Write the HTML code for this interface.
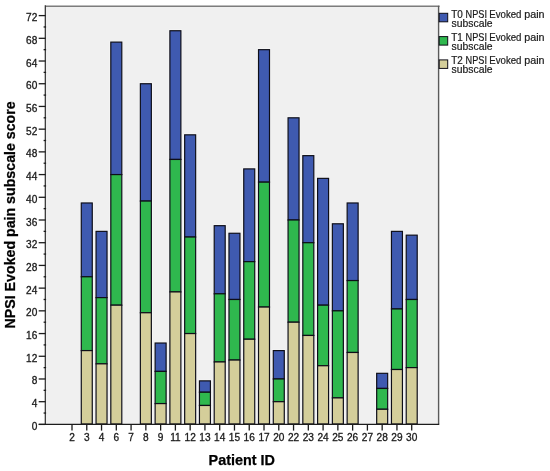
<!DOCTYPE html>
<html><head><meta charset="utf-8"><title>NPSI Evoked pain subscale score</title>
<style>
html,body{margin:0;padding:0;background:#fff;}
body{width:550px;height:471px;overflow:hidden;}
svg{display:block;}
text{font-family:"Liberation Sans",Arial,sans-serif;fill:#1a1a1a;}
.tk{font-size:10.1px;stroke:#1a1a1a;stroke-width:0.3px;}
.lg{font-size:10.4px;stroke:#1a1a1a;stroke-width:0.2px;}
.ttl{font-size:14.2px;font-weight:bold;fill:#000;stroke:#000;stroke-width:0.25px;}
</style></head>
<body>
<svg width="550" height="471" viewBox="0 0 550 471">
<rect x="0" y="0" width="550" height="471" fill="#ffffff"/>
<rect x="45.6" y="5.8" width="393.4" height="418.2" fill="#f0f0f0"/>
<rect x="80.17" y="201.87" width="13.2" height="222.13" fill="#ffffff" fill-opacity="0.75"/>
<rect x="94.94" y="230.26" width="13.2" height="193.74" fill="#ffffff" fill-opacity="0.75"/>
<rect x="109.71" y="41.00" width="13.2" height="383.00" fill="#ffffff" fill-opacity="0.75"/>
<rect x="139.25" y="82.63" width="13.2" height="341.37" fill="#ffffff" fill-opacity="0.75"/>
<rect x="154.02" y="341.92" width="13.2" height="82.08" fill="#ffffff" fill-opacity="0.75"/>
<rect x="168.79" y="29.64" width="13.2" height="394.36" fill="#ffffff" fill-opacity="0.75"/>
<rect x="183.56" y="133.73" width="13.2" height="290.27" fill="#ffffff" fill-opacity="0.75"/>
<rect x="198.33" y="379.77" width="13.2" height="44.23" fill="#ffffff" fill-opacity="0.75"/>
<rect x="213.10" y="224.58" width="13.2" height="199.42" fill="#ffffff" fill-opacity="0.75"/>
<rect x="227.87" y="232.15" width="13.2" height="191.85" fill="#ffffff" fill-opacity="0.75"/>
<rect x="242.64" y="167.80" width="13.2" height="256.20" fill="#ffffff" fill-opacity="0.75"/>
<rect x="257.41" y="48.57" width="13.2" height="375.43" fill="#ffffff" fill-opacity="0.75"/>
<rect x="272.18" y="349.49" width="13.2" height="74.51" fill="#ffffff" fill-opacity="0.75"/>
<rect x="286.95" y="116.70" width="13.2" height="307.30" fill="#ffffff" fill-opacity="0.75"/>
<rect x="301.72" y="154.55" width="13.2" height="269.45" fill="#ffffff" fill-opacity="0.75"/>
<rect x="316.49" y="177.26" width="13.2" height="246.74" fill="#ffffff" fill-opacity="0.75"/>
<rect x="331.26" y="222.69" width="13.2" height="201.31" fill="#ffffff" fill-opacity="0.75"/>
<rect x="346.03" y="201.87" width="13.2" height="222.13" fill="#ffffff" fill-opacity="0.75"/>
<rect x="375.57" y="372.20" width="13.2" height="51.80" fill="#ffffff" fill-opacity="0.75"/>
<rect x="390.34" y="230.26" width="13.2" height="193.74" fill="#ffffff" fill-opacity="0.75"/>
<rect x="405.11" y="234.04" width="13.2" height="189.96" fill="#ffffff" fill-opacity="0.75"/>
<rect x="81.27" y="202.97" width="11.0" height="73.81" fill="#3f5ab0" stroke="#0e0e18" stroke-width="1.2"/>
<rect x="81.27" y="276.78" width="11.0" height="73.81" fill="#2fb84e" stroke="#0e0e18" stroke-width="1.2"/>
<rect x="81.27" y="350.59" width="11.0" height="73.41" fill="#d4ce9a" stroke="#0e0e18" stroke-width="1.2"/>
<rect x="96.04" y="231.36" width="11.0" height="66.24" fill="#3f5ab0" stroke="#0e0e18" stroke-width="1.2"/>
<rect x="96.04" y="297.60" width="11.0" height="66.24" fill="#2fb84e" stroke="#0e0e18" stroke-width="1.2"/>
<rect x="96.04" y="363.84" width="11.0" height="60.16" fill="#d4ce9a" stroke="#0e0e18" stroke-width="1.2"/>
<rect x="110.81" y="42.10" width="11.0" height="132.48" fill="#3f5ab0" stroke="#0e0e18" stroke-width="1.2"/>
<rect x="110.81" y="174.58" width="11.0" height="130.59" fill="#2fb84e" stroke="#0e0e18" stroke-width="1.2"/>
<rect x="110.81" y="305.17" width="11.0" height="118.83" fill="#d4ce9a" stroke="#0e0e18" stroke-width="1.2"/>
<rect x="140.35" y="83.73" width="11.0" height="117.34" fill="#3f5ab0" stroke="#0e0e18" stroke-width="1.2"/>
<rect x="140.35" y="201.07" width="11.0" height="111.66" fill="#2fb84e" stroke="#0e0e18" stroke-width="1.2"/>
<rect x="140.35" y="312.74" width="11.0" height="111.26" fill="#d4ce9a" stroke="#0e0e18" stroke-width="1.2"/>
<rect x="155.12" y="343.02" width="11.0" height="28.39" fill="#3f5ab0" stroke="#0e0e18" stroke-width="1.2"/>
<rect x="155.12" y="371.41" width="11.0" height="32.17" fill="#2fb84e" stroke="#0e0e18" stroke-width="1.2"/>
<rect x="155.12" y="403.58" width="11.0" height="20.42" fill="#d4ce9a" stroke="#0e0e18" stroke-width="1.2"/>
<rect x="169.89" y="30.74" width="11.0" height="128.70" fill="#3f5ab0" stroke="#0e0e18" stroke-width="1.2"/>
<rect x="169.89" y="159.44" width="11.0" height="132.48" fill="#2fb84e" stroke="#0e0e18" stroke-width="1.2"/>
<rect x="169.89" y="291.92" width="11.0" height="132.08" fill="#d4ce9a" stroke="#0e0e18" stroke-width="1.2"/>
<rect x="184.66" y="134.83" width="11.0" height="102.20" fill="#3f5ab0" stroke="#0e0e18" stroke-width="1.2"/>
<rect x="184.66" y="237.03" width="11.0" height="96.52" fill="#2fb84e" stroke="#0e0e18" stroke-width="1.2"/>
<rect x="184.66" y="333.56" width="11.0" height="90.44" fill="#d4ce9a" stroke="#0e0e18" stroke-width="1.2"/>
<rect x="199.43" y="380.87" width="11.0" height="11.36" fill="#3f5ab0" stroke="#0e0e18" stroke-width="1.2"/>
<rect x="199.43" y="392.23" width="11.0" height="13.25" fill="#2fb84e" stroke="#0e0e18" stroke-width="1.2"/>
<rect x="199.43" y="405.47" width="11.0" height="18.53" fill="#d4ce9a" stroke="#0e0e18" stroke-width="1.2"/>
<rect x="214.20" y="225.68" width="11.0" height="68.13" fill="#3f5ab0" stroke="#0e0e18" stroke-width="1.2"/>
<rect x="214.20" y="293.81" width="11.0" height="68.13" fill="#2fb84e" stroke="#0e0e18" stroke-width="1.2"/>
<rect x="214.20" y="361.94" width="11.0" height="62.06" fill="#d4ce9a" stroke="#0e0e18" stroke-width="1.2"/>
<rect x="228.97" y="233.25" width="11.0" height="66.24" fill="#3f5ab0" stroke="#0e0e18" stroke-width="1.2"/>
<rect x="228.97" y="299.49" width="11.0" height="60.56" fill="#2fb84e" stroke="#0e0e18" stroke-width="1.2"/>
<rect x="228.97" y="360.05" width="11.0" height="63.95" fill="#d4ce9a" stroke="#0e0e18" stroke-width="1.2"/>
<rect x="243.74" y="168.90" width="11.0" height="92.74" fill="#3f5ab0" stroke="#0e0e18" stroke-width="1.2"/>
<rect x="243.74" y="261.64" width="11.0" height="77.60" fill="#2fb84e" stroke="#0e0e18" stroke-width="1.2"/>
<rect x="243.74" y="339.23" width="11.0" height="84.77" fill="#d4ce9a" stroke="#0e0e18" stroke-width="1.2"/>
<rect x="258.51" y="49.67" width="11.0" height="132.48" fill="#3f5ab0" stroke="#0e0e18" stroke-width="1.2"/>
<rect x="258.51" y="182.15" width="11.0" height="124.91" fill="#2fb84e" stroke="#0e0e18" stroke-width="1.2"/>
<rect x="258.51" y="307.06" width="11.0" height="116.94" fill="#d4ce9a" stroke="#0e0e18" stroke-width="1.2"/>
<rect x="273.28" y="350.59" width="11.0" height="28.39" fill="#3f5ab0" stroke="#0e0e18" stroke-width="1.2"/>
<rect x="273.28" y="378.98" width="11.0" height="22.71" fill="#2fb84e" stroke="#0e0e18" stroke-width="1.2"/>
<rect x="273.28" y="401.69" width="11.0" height="22.31" fill="#d4ce9a" stroke="#0e0e18" stroke-width="1.2"/>
<rect x="288.05" y="117.80" width="11.0" height="102.20" fill="#3f5ab0" stroke="#0e0e18" stroke-width="1.2"/>
<rect x="288.05" y="220.00" width="11.0" height="102.20" fill="#2fb84e" stroke="#0e0e18" stroke-width="1.2"/>
<rect x="288.05" y="322.20" width="11.0" height="101.80" fill="#d4ce9a" stroke="#0e0e18" stroke-width="1.2"/>
<rect x="302.82" y="155.65" width="11.0" height="87.06" fill="#3f5ab0" stroke="#0e0e18" stroke-width="1.2"/>
<rect x="302.82" y="242.71" width="11.0" height="92.74" fill="#2fb84e" stroke="#0e0e18" stroke-width="1.2"/>
<rect x="302.82" y="335.45" width="11.0" height="88.55" fill="#d4ce9a" stroke="#0e0e18" stroke-width="1.2"/>
<rect x="317.59" y="178.36" width="11.0" height="126.80" fill="#3f5ab0" stroke="#0e0e18" stroke-width="1.2"/>
<rect x="317.59" y="305.17" width="11.0" height="60.56" fill="#2fb84e" stroke="#0e0e18" stroke-width="1.2"/>
<rect x="317.59" y="365.73" width="11.0" height="58.27" fill="#d4ce9a" stroke="#0e0e18" stroke-width="1.2"/>
<rect x="332.36" y="223.79" width="11.0" height="87.06" fill="#3f5ab0" stroke="#0e0e18" stroke-width="1.2"/>
<rect x="332.36" y="310.84" width="11.0" height="87.06" fill="#2fb84e" stroke="#0e0e18" stroke-width="1.2"/>
<rect x="332.36" y="397.90" width="11.0" height="26.10" fill="#d4ce9a" stroke="#0e0e18" stroke-width="1.2"/>
<rect x="347.13" y="202.97" width="11.0" height="77.60" fill="#3f5ab0" stroke="#0e0e18" stroke-width="1.2"/>
<rect x="347.13" y="280.56" width="11.0" height="71.92" fill="#2fb84e" stroke="#0e0e18" stroke-width="1.2"/>
<rect x="347.13" y="352.48" width="11.0" height="71.52" fill="#d4ce9a" stroke="#0e0e18" stroke-width="1.2"/>
<rect x="376.67" y="373.30" width="11.0" height="15.14" fill="#3f5ab0" stroke="#0e0e18" stroke-width="1.2"/>
<rect x="376.67" y="388.44" width="11.0" height="20.82" fill="#2fb84e" stroke="#0e0e18" stroke-width="1.2"/>
<rect x="376.67" y="409.26" width="11.0" height="14.74" fill="#d4ce9a" stroke="#0e0e18" stroke-width="1.2"/>
<rect x="391.44" y="231.36" width="11.0" height="77.60" fill="#3f5ab0" stroke="#0e0e18" stroke-width="1.2"/>
<rect x="391.44" y="308.95" width="11.0" height="60.56" fill="#2fb84e" stroke="#0e0e18" stroke-width="1.2"/>
<rect x="391.44" y="369.51" width="11.0" height="54.49" fill="#d4ce9a" stroke="#0e0e18" stroke-width="1.2"/>
<rect x="406.21" y="235.14" width="11.0" height="64.35" fill="#3f5ab0" stroke="#0e0e18" stroke-width="1.2"/>
<rect x="406.21" y="299.49" width="11.0" height="68.13" fill="#2fb84e" stroke="#0e0e18" stroke-width="1.2"/>
<rect x="406.21" y="367.62" width="11.0" height="56.38" fill="#d4ce9a" stroke="#0e0e18" stroke-width="1.2"/>
<path d="M45.6 6.3 H439.6" fill="none" stroke="#7c7c7c" stroke-width="1.4"/>
<path d="M438.6 5.8 V424.0" fill="none" stroke="#5a5a5a" stroke-width="1.4"/>
<path d="M45.300000000000004 5.2 V424.0" fill="none" stroke="#2a2a2a" stroke-width="1.2"/>
<path d="M38.7 424.4 H439.3" fill="none" stroke="#1c1c1c" stroke-width="1.1"/>
<path d="M38.7 424.40 H45.6" stroke="#1c1c1c" stroke-width="1.3"/>
<text x="37.3" y="429.90" text-anchor="end" class="tk">0</text>
<path d="M43.6 413.04 H46.1" stroke="#1c1c1c" stroke-width="1.3"/>
<path d="M38.7 401.69 H45.6" stroke="#1c1c1c" stroke-width="1.3"/>
<text x="37.3" y="407.19" text-anchor="end" class="tk">4</text>
<path d="M43.6 390.33 H46.1" stroke="#1c1c1c" stroke-width="1.3"/>
<path d="M38.7 378.98 H45.6" stroke="#1c1c1c" stroke-width="1.3"/>
<text x="37.3" y="384.48" text-anchor="end" class="tk">8</text>
<path d="M43.6 367.62 H46.1" stroke="#1c1c1c" stroke-width="1.3"/>
<path d="M38.7 356.27 H45.6" stroke="#1c1c1c" stroke-width="1.3"/>
<text x="37.3" y="361.77" text-anchor="end" class="tk">12</text>
<path d="M43.6 344.91 H46.1" stroke="#1c1c1c" stroke-width="1.3"/>
<path d="M38.7 333.56 H45.6" stroke="#1c1c1c" stroke-width="1.3"/>
<text x="37.3" y="339.06" text-anchor="end" class="tk">16</text>
<path d="M43.6 322.20 H46.1" stroke="#1c1c1c" stroke-width="1.3"/>
<path d="M38.7 310.84 H45.6" stroke="#1c1c1c" stroke-width="1.3"/>
<text x="37.3" y="316.34" text-anchor="end" class="tk">20</text>
<path d="M43.6 299.49 H46.1" stroke="#1c1c1c" stroke-width="1.3"/>
<path d="M38.7 288.13 H45.6" stroke="#1c1c1c" stroke-width="1.3"/>
<text x="37.3" y="293.63" text-anchor="end" class="tk">24</text>
<path d="M43.6 276.78 H46.1" stroke="#1c1c1c" stroke-width="1.3"/>
<path d="M38.7 265.42 H45.6" stroke="#1c1c1c" stroke-width="1.3"/>
<text x="37.3" y="270.92" text-anchor="end" class="tk">28</text>
<path d="M43.6 254.07 H46.1" stroke="#1c1c1c" stroke-width="1.3"/>
<path d="M38.7 242.71 H45.6" stroke="#1c1c1c" stroke-width="1.3"/>
<text x="37.3" y="248.21" text-anchor="end" class="tk">32</text>
<path d="M43.6 231.36 H46.1" stroke="#1c1c1c" stroke-width="1.3"/>
<path d="M38.7 220.00 H45.6" stroke="#1c1c1c" stroke-width="1.3"/>
<text x="37.3" y="225.50" text-anchor="end" class="tk">36</text>
<path d="M43.6 208.64 H46.1" stroke="#1c1c1c" stroke-width="1.3"/>
<path d="M38.7 197.29 H45.6" stroke="#1c1c1c" stroke-width="1.3"/>
<text x="37.3" y="202.79" text-anchor="end" class="tk">40</text>
<path d="M43.6 185.93 H46.1" stroke="#1c1c1c" stroke-width="1.3"/>
<path d="M38.7 174.58 H45.6" stroke="#1c1c1c" stroke-width="1.3"/>
<text x="37.3" y="180.08" text-anchor="end" class="tk">44</text>
<path d="M43.6 163.22 H46.1" stroke="#1c1c1c" stroke-width="1.3"/>
<path d="M38.7 151.87 H45.6" stroke="#1c1c1c" stroke-width="1.3"/>
<text x="37.3" y="157.37" text-anchor="end" class="tk">48</text>
<path d="M43.6 140.51 H46.1" stroke="#1c1c1c" stroke-width="1.3"/>
<path d="M38.7 129.16 H45.6" stroke="#1c1c1c" stroke-width="1.3"/>
<text x="37.3" y="134.66" text-anchor="end" class="tk">52</text>
<path d="M43.6 117.80 H46.1" stroke="#1c1c1c" stroke-width="1.3"/>
<path d="M38.7 106.44 H45.6" stroke="#1c1c1c" stroke-width="1.3"/>
<text x="37.3" y="111.94" text-anchor="end" class="tk">56</text>
<path d="M43.6 95.09 H46.1" stroke="#1c1c1c" stroke-width="1.3"/>
<path d="M38.7 83.73 H45.6" stroke="#1c1c1c" stroke-width="1.3"/>
<text x="37.3" y="89.23" text-anchor="end" class="tk">60</text>
<path d="M43.6 72.38 H46.1" stroke="#1c1c1c" stroke-width="1.3"/>
<path d="M38.7 61.02 H45.6" stroke="#1c1c1c" stroke-width="1.3"/>
<text x="37.3" y="66.52" text-anchor="end" class="tk">64</text>
<path d="M43.6 49.67 H46.1" stroke="#1c1c1c" stroke-width="1.3"/>
<path d="M38.7 38.31 H45.6" stroke="#1c1c1c" stroke-width="1.3"/>
<text x="37.3" y="43.81" text-anchor="end" class="tk">68</text>
<path d="M43.6 26.96 H46.1" stroke="#1c1c1c" stroke-width="1.3"/>
<path d="M38.7 15.60 H45.6" stroke="#1c1c1c" stroke-width="1.3"/>
<text x="37.3" y="21.10" text-anchor="end" class="tk">72</text>
<path d="M72.00 424.0 V430.6" stroke="#1c1c1c" stroke-width="1.3"/>
<text x="72.00" y="441.0" text-anchor="middle" class="tk">2</text>
<path d="M86.77 424.0 V430.6" stroke="#1c1c1c" stroke-width="1.3"/>
<text x="86.77" y="441.0" text-anchor="middle" class="tk">3</text>
<path d="M101.54 424.0 V430.6" stroke="#1c1c1c" stroke-width="1.3"/>
<text x="101.54" y="441.0" text-anchor="middle" class="tk">4</text>
<path d="M116.31 424.0 V430.6" stroke="#1c1c1c" stroke-width="1.3"/>
<text x="116.31" y="441.0" text-anchor="middle" class="tk">6</text>
<path d="M131.08 424.0 V430.6" stroke="#1c1c1c" stroke-width="1.3"/>
<text x="131.08" y="441.0" text-anchor="middle" class="tk">7</text>
<path d="M145.85 424.0 V430.6" stroke="#1c1c1c" stroke-width="1.3"/>
<text x="145.85" y="441.0" text-anchor="middle" class="tk">8</text>
<path d="M160.62 424.0 V430.6" stroke="#1c1c1c" stroke-width="1.3"/>
<text x="160.62" y="441.0" text-anchor="middle" class="tk">9</text>
<path d="M175.39 424.0 V430.6" stroke="#1c1c1c" stroke-width="1.3"/>
<text x="175.39" y="441.0" text-anchor="middle" class="tk">11</text>
<path d="M190.16 424.0 V430.6" stroke="#1c1c1c" stroke-width="1.3"/>
<text x="190.16" y="441.0" text-anchor="middle" class="tk">12</text>
<path d="M204.93 424.0 V430.6" stroke="#1c1c1c" stroke-width="1.3"/>
<text x="204.93" y="441.0" text-anchor="middle" class="tk">13</text>
<path d="M219.70 424.0 V430.6" stroke="#1c1c1c" stroke-width="1.3"/>
<text x="219.70" y="441.0" text-anchor="middle" class="tk">14</text>
<path d="M234.47 424.0 V430.6" stroke="#1c1c1c" stroke-width="1.3"/>
<text x="234.47" y="441.0" text-anchor="middle" class="tk">15</text>
<path d="M249.24 424.0 V430.6" stroke="#1c1c1c" stroke-width="1.3"/>
<text x="249.24" y="441.0" text-anchor="middle" class="tk">16</text>
<path d="M264.01 424.0 V430.6" stroke="#1c1c1c" stroke-width="1.3"/>
<text x="264.01" y="441.0" text-anchor="middle" class="tk">17</text>
<path d="M278.78 424.0 V430.6" stroke="#1c1c1c" stroke-width="1.3"/>
<text x="278.78" y="441.0" text-anchor="middle" class="tk">20</text>
<path d="M293.55 424.0 V430.6" stroke="#1c1c1c" stroke-width="1.3"/>
<text x="293.55" y="441.0" text-anchor="middle" class="tk">22</text>
<path d="M308.32 424.0 V430.6" stroke="#1c1c1c" stroke-width="1.3"/>
<text x="308.32" y="441.0" text-anchor="middle" class="tk">23</text>
<path d="M323.09 424.0 V430.6" stroke="#1c1c1c" stroke-width="1.3"/>
<text x="323.09" y="441.0" text-anchor="middle" class="tk">24</text>
<path d="M337.86 424.0 V430.6" stroke="#1c1c1c" stroke-width="1.3"/>
<text x="337.86" y="441.0" text-anchor="middle" class="tk">25</text>
<path d="M352.63 424.0 V430.6" stroke="#1c1c1c" stroke-width="1.3"/>
<text x="352.63" y="441.0" text-anchor="middle" class="tk">26</text>
<path d="M367.40 424.0 V430.6" stroke="#1c1c1c" stroke-width="1.3"/>
<text x="367.40" y="441.0" text-anchor="middle" class="tk">27</text>
<path d="M382.17 424.0 V430.6" stroke="#1c1c1c" stroke-width="1.3"/>
<text x="382.17" y="441.0" text-anchor="middle" class="tk">28</text>
<path d="M396.94 424.0 V430.6" stroke="#1c1c1c" stroke-width="1.3"/>
<text x="396.94" y="441.0" text-anchor="middle" class="tk">29</text>
<path d="M411.71 424.0 V430.6" stroke="#1c1c1c" stroke-width="1.3"/>
<text x="411.71" y="441.0" text-anchor="middle" class="tk">30</text>
<text x="241.8" y="465.1" text-anchor="middle" class="ttl" style="font-size:14.4px">Patient ID</text>
<text transform="translate(14.7,214.9) rotate(-90)" text-anchor="middle" class="ttl">NPSI Evoked pain subscale score</text>
<rect x="439.2" y="13.30" width="8.5" height="8.5" fill="#3f5ab0" stroke="#0e0e18" stroke-width="1"/>
<text y="17.70" class="lg"><tspan x="451.2" textLength="11.6" lengthAdjust="spacingAndGlyphs">T0</tspan> <tspan x="465.6" textLength="21.4" lengthAdjust="spacingAndGlyphs">NPSI</tspan> <tspan x="489.3" textLength="32.2" lengthAdjust="spacingAndGlyphs">Evoked</tspan> <tspan x="524.3" textLength="20.3" lengthAdjust="spacingAndGlyphs">pain</tspan></text>
<text x="451.5" y="26.50" class="lg" textLength="41" lengthAdjust="spacingAndGlyphs">subscale</text>
<rect x="439.2" y="36.60" width="8.5" height="8.5" fill="#2fb84e" stroke="#0e0e18" stroke-width="1"/>
<text y="41.00" class="lg"><tspan x="451.2" textLength="11.6" lengthAdjust="spacingAndGlyphs">T1</tspan> <tspan x="465.6" textLength="21.4" lengthAdjust="spacingAndGlyphs">NPSI</tspan> <tspan x="489.3" textLength="32.2" lengthAdjust="spacingAndGlyphs">Evoked</tspan> <tspan x="524.3" textLength="20.3" lengthAdjust="spacingAndGlyphs">pain</tspan></text>
<text x="451.5" y="49.80" class="lg" textLength="41" lengthAdjust="spacingAndGlyphs">subscale</text>
<rect x="439.2" y="59.90" width="8.5" height="8.5" fill="#d4ce9a" stroke="#0e0e18" stroke-width="1"/>
<text y="64.30" class="lg"><tspan x="451.2" textLength="11.6" lengthAdjust="spacingAndGlyphs">T2</tspan> <tspan x="465.6" textLength="21.4" lengthAdjust="spacingAndGlyphs">NPSI</tspan> <tspan x="489.3" textLength="32.2" lengthAdjust="spacingAndGlyphs">Evoked</tspan> <tspan x="524.3" textLength="20.3" lengthAdjust="spacingAndGlyphs">pain</tspan></text>
<text x="451.5" y="73.10" class="lg" textLength="41" lengthAdjust="spacingAndGlyphs">subscale</text>
</svg>
</body></html>
